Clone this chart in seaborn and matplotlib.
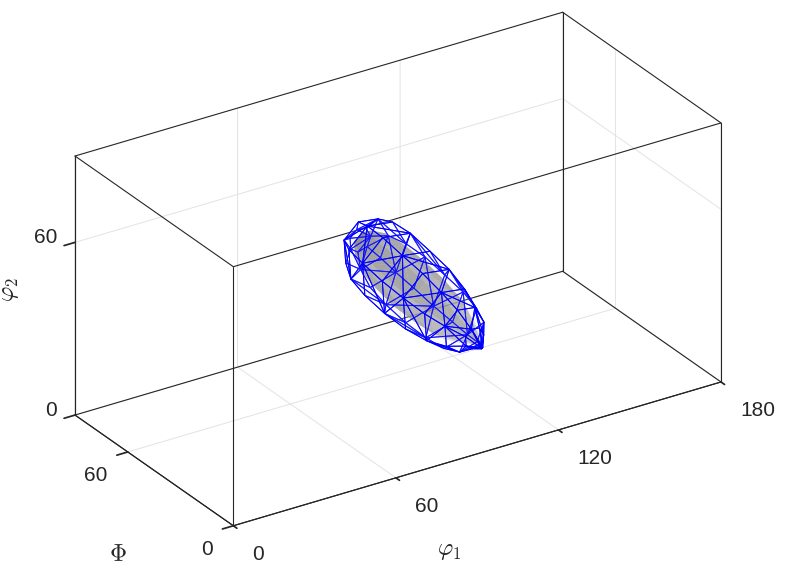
import numpy as np
import matplotlib
matplotlib.use("Agg")
import matplotlib.pyplot as plt
import seaborn as sns
from matplotlib.colors import LightSource
from mpl_toolkits.mplot3d import proj3d
from mpl_toolkits.mplot3d.art3d import Poly3DCollection

# ---------------- data ----------------
phi1_lim = [0, 180]
Phi_lim = [0, 90]
phi2_lim = [0, 90]
phi1_ticks = [0, 60, 120, 180]
Phi_ticks = [0, 60]
phi2_ticks = [0, 60]
phi1_ticklabels = ["0", "60", "120", "180"]
Phi_ticklabels = ["0", "60"]
phi2_ticklabels = ["0", "60"]

# hull of the orientation cluster: rings along Phi (centre, radius)
ring_Phi = [82, 79, 72, 62, 50, 38, 28, 20, 14, 9]
ring_phi1 = [100, 100, 99.5, 99, 98.5, 98, 98, 98, 98, 97.5]
ring_phi2 = [36.5, 36.5, 36, 35.5, 34.5, 34, 33, 32.5, 32, 31]
ring_r = [4, 8.5, 11, 12, 12, 11.5, 10, 7.5, 3.5, 0.4]
inner_r = [1, 4.5, 7, 8, 8.5, 8, 7, 4.5, 2, 0.3]
# irregular cross-section directions (phi1, phi2) of the hull vertices
unit_u = [1.0, 0.55, -0.30, -0.92, -0.85, -0.20, 0.66]
unit_v = [0.05, 0.86, 0.97, 0.40, -0.55, -1.0, -0.76]

# ---------------- style ----------------
sns.set_theme(style="white")
plt.rcParams["font.family"] = ["Liberation Sans", "DejaVu Sans"]
plt.rcParams["mathtext.fontset"] = "cm"
plt.rcParams["grid.color"] = "#e3e3e3"
plt.rcParams["grid.linewidth"] = 0.7
DARK = "#262626"

W, H = 806, 586
fig = plt.figure(figsize=(W / 100, H / 100), dpi=100)
fig.patch.set_facecolor("white")
ax = fig.add_axes([0, 0, 1, 1], projection="3d", computed_zorder=False)
ax.set_proj_type("ortho")
ax.view_init(elev=27, azim=-123)
ax.set_box_aspect((2, 1, 1))
ax.set_xlim(*phi1_lim)
ax.set_ylim(*Phi_lim)
ax.set_zlim(*phi2_lim)
ax.set_xticks(phi1_ticks)
ax.set_yticks(Phi_ticks)
ax.set_zticks(phi2_ticks)

for axis in (ax.xaxis, ax.yaxis, ax.zaxis):
    axis.set_pane_color((1, 1, 1, 0))
    axis.line.set_color(DARK)
    axis.line.set_linewidth(0.8)
    axis._axinfo["tick"]["inward_factor"] = 0.28
    axis._axinfo["tick"]["outward_factor"] = 0.0
    axis._axinfo["grid"]["color"] = "#e3e3e3"
    axis._axinfo["grid"]["linewidth"] = 0.7
    axis.set_tick_params(labelbottom=False, color=DARK, width=0.8)
    axis.label.set_visible(False)

# box edges
for y in Phi_lim:
    for z in phi2_lim:
        ax.plot(phi1_lim, [y, y], [z, z], color=DARK, lw=0.8, zorder=1)
for x in phi1_lim:
    for z in phi2_lim:
        ax.plot([x, x], Phi_lim, [z, z], color=DARK, lw=0.8, zorder=1)
for x in phi1_lim:
    for y in Phi_lim:
        ax.plot([x, x], [y, y], phi2_lim, color=DARK, lw=0.8, zorder=1)

# ---------------- hull mesh ----------------
def ring_vertices(radii):
    pts = []
    for c1, cP, c2, r in zip(ring_phi1, ring_Phi, ring_phi2, radii):
        pts.append([(c1 + r * u, cP, c2 + r * v) for u, v in zip(unit_u, unit_v)])
    return pts

def triangles(rings):
    n = len(unit_u)
    tris = []
    for i in range(len(rings) - 1):
        for j in range(n):
            k = (j + 1) % n
            if (i + j) % 2 == 0:
                tris.append([rings[i][j], rings[i + 1][j], rings[i + 1][k]])
                tris.append([rings[i][j], rings[i + 1][k], rings[i][k]])
            else:
                tris.append([rings[i][j], rings[i + 1][j], rings[i][k]])
                tris.append([rings[i][k], rings[i + 1][j], rings[i + 1][k]])
    first, last = rings[0], rings[-1]
    for j in range(1, n - 1):
        tris.append([first[0], first[j], first[j + 1]])
        tris.append([last[0], last[j], last[j + 1]])
    return tris

inner = triangles(ring_vertices(inner_r))
inner_col = Poly3DCollection(inner, facecolors=(0.97, 0.97, 0.97, 0.55),
                             edgecolor="none", shade=True,
                             lightsource=LightSource(azdeg=300, altdeg=45),
                             zorder=2)
ax.add_collection3d(inner_col)

outer = triangles(ring_vertices(ring_r))
hull = Poly3DCollection(outer, facecolor=(0.92, 0.92, 0.92, 0.10),
                        edgecolor="#0000ff", linewidth=0.7, zorder=3)
ax.add_collection3d(hull)

# ---------------- fit box into figure like reference ----------------
def to_px(x, y, z):
    X, Y, _ = proj3d.proj_transform(x, y, z, ax.get_proj())
    d = ax.transData.transform((X, Y))
    return np.array([d[0], d[1]])

fig.canvas.draw()
pA = to_px(phi1_lim[0], Phi_lim[1], phi2_lim[1])
pB = to_px(phi1_lim[1], Phi_lim[0], phi2_lim[0])
tA = np.array([75, H - 157])
tB = np.array([721, H - 381])
s = (tB[0] - tA[0]) / (pB[0] - pA[0])
bb = ax.get_position()
c = np.array([(bb.x0 + bb.x1) / 2 * W, (bb.y0 + bb.y1) / 2 * H])
side = bb.width * W
cn = (tA + tB) / 2 - s * ((pA + pB) / 2 - c)
sn = side * s
ax.set_position([(cn[0] - sn / 2) / W, (cn[1] - sn / 2) / H, sn / W, sn / H])
fig.canvas.draw()

# ---------------- tick labels next to the projected ticks ----------------
TFS = 15
def place(px, dx, dy, text, ha):
    fig.text((px[0] + dx) / W, (px[1] - dy) / H, text, fontsize=TFS,
             color=DARK, ha=ha, va="center")

for t, lab in zip(phi1_ticks, phi1_ticklabels):
    place(to_px(t, Phi_lim[0], phi2_lim[0]), 19, 29, lab, "left")
for t, lab in zip(Phi_ticks, Phi_ticklabels):
    place(to_px(phi1_lim[0], t, phi2_lim[0]), -20, 24, lab, "right")
for t, lab in zip(phi2_ticks, phi2_ticklabels):
    place(to_px(phi1_lim[0], Phi_lim[1], t), -18, -5, lab, "right")

# axis labels
fig.text(449 / W, 1 - 551 / H, r"$\varphi_1$", fontsize=17, color=DARK,
         ha="center", va="center")
fig.text(118 / W, 1 - 555 / H, r"$\Phi$", fontsize=17, color=DARK,
         ha="center", va="center")
fig.text(10 / W, 1 - 290 / H, r"$\varphi_2$", fontsize=17, color=DARK,
         ha="center", va="center", rotation=90)

fig.savefig("out.png", dpi=100)
